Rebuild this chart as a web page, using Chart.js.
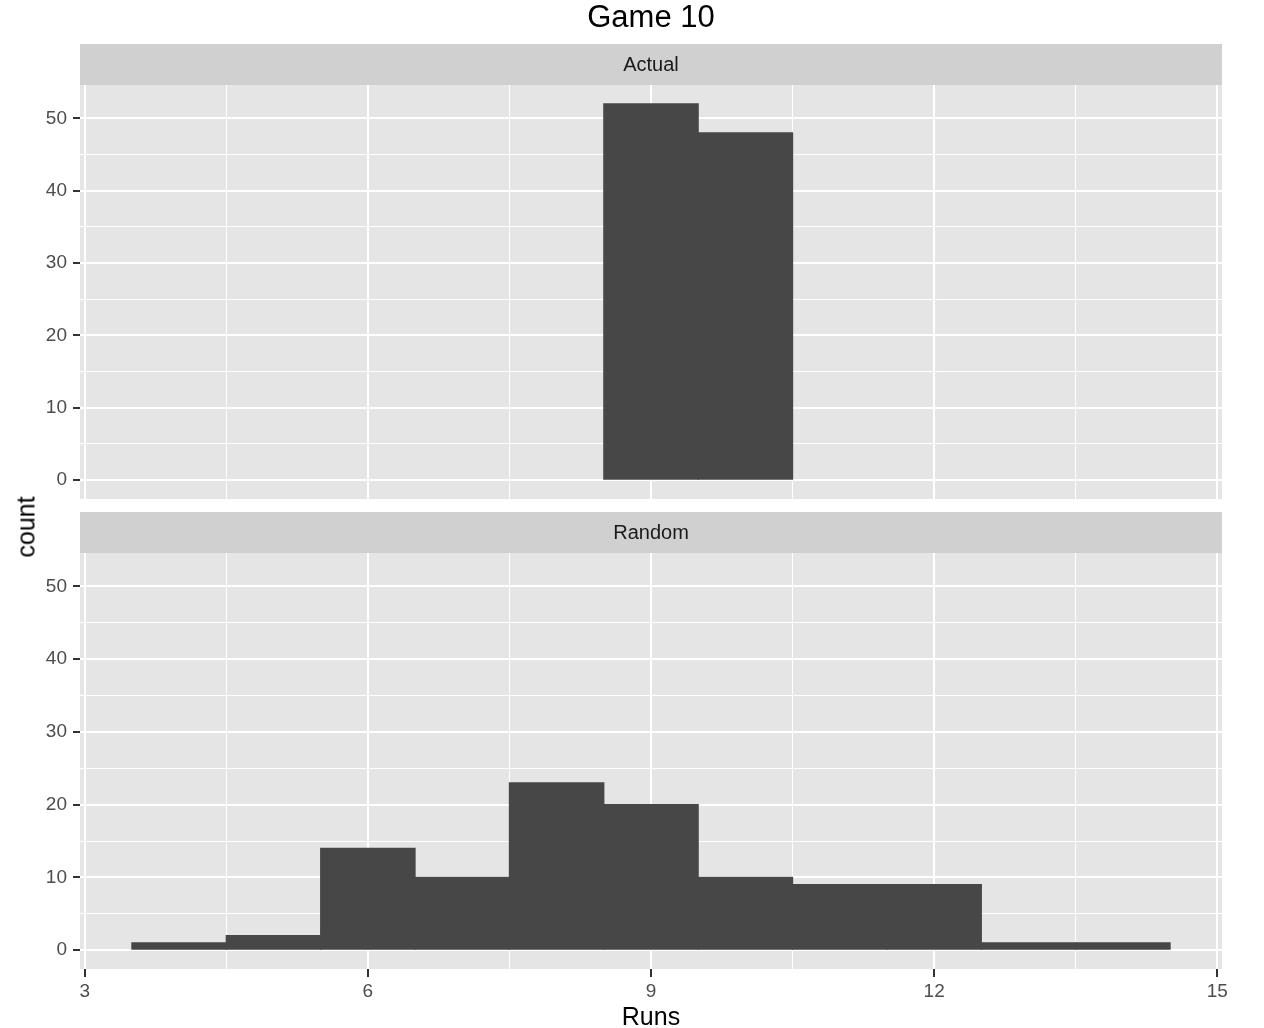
<!DOCTYPE html>
<html>
<head>
<meta charset="utf-8">
<title>Game 10</title>
<script src="https://cdn.jsdelivr.net/npm/chart.js@4.4.1/dist/chart.umd.min.js"></script>
<style>
  html, body { margin: 0; padding: 0; background: #fff; overflow: hidden; }
  #wrap { position: relative; width: 1264px; height: 1028px; overflow: hidden; font-family: "Liberation Sans", Arial, sans-serif; }
  .panel { position: absolute; left: 0; width: 1264px; }
  #panel-top { top: 0; height: 505px; }
  #panel-bottom { top: 505px; height: 528px; }
  #title { position: absolute; top: 0; left: 80px; width: 1142px; text-align: center; font-size: 31px; line-height: 34px; color: #000; }
  #ylab { position: absolute; left: 26px; top: 527px; transform: translate(-50%, -50%) rotate(-90deg); font-size: 25px; color: #000; white-space: nowrap; }
</style>
</head>
<body>
<div id="wrap">
  <div class="panel" id="panel-top"><canvas id="chart-actual"></canvas></div>
  <div class="panel" id="panel-bottom"><canvas id="chart-random"></canvas></div>
  <div id="title">Game 10</div>
  <div id="ylab">count</div>
</div>
<script>
// --- Data (histogram bins of width 1) ---------------------------------

const ACTUAL_BINS = [9, 10];
const ACTUAL_COUNTS = [52, 48];

const RANDOM_BINS = [4, 5, 6, 7, 8, 9, 10, 11, 12, 13, 14];
const RANDOM_COUNTS = [1, 2, 14, 10, 23, 20, 10, 9, 9, 1, 1];

const X_MAJOR = [3, 6, 9, 12, 15];
const X_MINOR = [4.5, 7.5, 10.5, 13.5];
const Y_MAJOR = [0, 10, 20, 30, 40, 50];
const Y_MINOR = [5, 15, 25, 35, 45];

// --- Style ---------------------------------------------------------------

const FONT = '"Liberation Sans", Arial, sans-serif';
const PANEL_BG = '#e5e5e5';
const STRIP_BG = '#d0d0d0';
const BAR_FILL = '#474747';
const STRIP_H = 41;

const isMajorX = (v) => X_MAJOR.includes(v);
const isMajorY = (v) => Y_MAJOR.includes(v);

// Panel background + facet strip above the plot area
const facetStrip = {
    id: 'facetStrip',
    beforeDraw(chart, args, opts) {
        const { ctx, chartArea: a } = chart;
        ctx.save();
        ctx.fillStyle = PANEL_BG;
        ctx.fillRect(a.left, a.top, a.right - a.left, a.bottom - a.top);
        ctx.fillStyle = STRIP_BG;
        ctx.fillRect(a.left, a.top - STRIP_H, a.right - a.left, STRIP_H);
        ctx.fillStyle = '#1a1a1a';
        ctx.font = `20px ${FONT}`;
        ctx.textAlign = 'center';
        ctx.textBaseline = 'middle';
        ctx.fillText(opts.label, (a.left + a.right) / 2, a.top - STRIP_H / 2 + 1);
        ctx.restore();
    },
};

function gridStyle(isMajor, tickLen) {
    return {
        color: '#ffffff',
        lineWidth: (c) => (isMajor(c.tick.value) ? 2 : 1),
        tickColor: (c) => (isMajor(c.tick.value) ? '#333333' : 'rgba(0,0,0,0)'),
        tickWidth: 2,
        tickLength: tickLen,
        drawTicks: tickLen > 0,
        offset: false,
    };
}

// keep the plot area exactly where the layout padding puts it
function noOverhang(s) {
    s.paddingTop = 0;
    s.paddingBottom = 0;
    s.paddingLeft = 0;
    s.paddingRight = 0;
}

function createPanel(canvas, label, bins, counts, showX) {
    return new Chart(canvas, {
        type: 'bar',
        data: {
            datasets: [
                {
                    data: bins.map((x, i) => ({ x, y: counts[i] })),
                    backgroundColor: BAR_FILL,
                    borderWidth: 0,
                    inflateAmount: 0.6,
                    barPercentage: 1,
                    categoryPercentage: 1,
                },
            ],
        },
        plugins: [facetStrip],
        options: {
            responsive: true,
            maintainAspectRatio: false,
            animation: false,
            layout: {
                padding: { top: showX ? 48 : 85, right: 42, bottom: showX ? 0 : 6, left: 0 },
            },
            plugins: {
                legend: { display: false },
                tooltip: { enabled: false },
                facetStrip: { label },
            },
            scales: {
                x: {
                    type: 'linear',
                    min: 2.95,
                    max: 15.05,
                    offset: false,
                    afterBuildTicks: (s) => {
                        s.ticks = [...X_MAJOR, ...X_MINOR].sort((a, b) => a - b).map((value) => ({ value }));
                    },
                    afterFit: (s) => { s.height = showX ? 64 : 0; noOverhang(s); },
                    border: { display: false },
                    grid: gridStyle(isMajorX, showX ? 8 : 0),
                    ticks: {
                        display: showX,
                        autoSkip: false,
                        maxRotation: 0,
                        padding: 3,
                        color: '#4d4d4d',
                        font: { family: FONT, size: 19 },
                        callback: (v) => (isMajorX(v) ? String(v) : ''),
                    },
                    title: {
                        display: showX,
                        text: 'Runs',
                        color: '#000000',
                        font: { family: FONT, size: 25 },
                        padding: { top: 0, bottom: 0 },
                    },
                },
                y: {
                    type: 'linear',
                    min: -2.6,
                    max: 54.6,
                    afterBuildTicks: (s) => {
                        s.ticks = [...Y_MAJOR, ...Y_MINOR].sort((a, b) => a - b).map((value) => ({ value }));
                    },
                    afterFit: (s) => { s.width = 80; noOverhang(s); },
                    border: { display: false },
                    grid: gridStyle(isMajorY, 7),
                    ticks: {
                        autoSkip: false,
                        padding: 6,
                        color: '#4d4d4d',
                        font: { family: FONT, size: 19 },
                        callback: (v) => (isMajorY(v) ? String(v) : ''),
                    },
                },
            },
        },
    });
}

createPanel(document.getElementById('chart-actual'), 'Actual', ACTUAL_BINS, ACTUAL_COUNTS, false);
createPanel(document.getElementById('chart-random'), 'Random', RANDOM_BINS, RANDOM_COUNTS, true);
</script>
</body>
</html>
